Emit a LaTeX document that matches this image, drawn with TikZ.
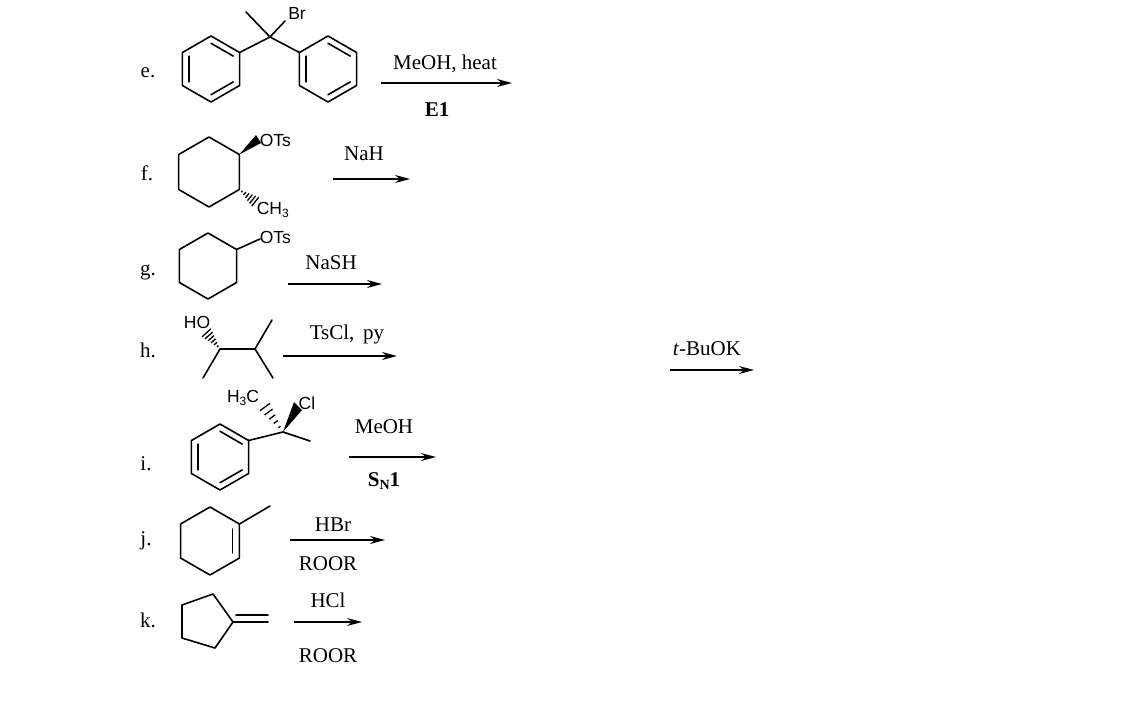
\documentclass[tikz,border=0pt]{standalone}
\usepackage{fontspec}
\setmainfont{Liberation Serif}
\newfontfamily\atomfont{Liberation Sans}
\usetikzlibrary{calc,arrows.meta}
\begin{document}
\begin{tikzpicture}[x=1pt,y=-1pt,line width=1.6pt,
  bond/.style={line width=1.6pt,line cap=round,line join=round},
  hash/.style={line width=1.3pt},
  rxn/.style={line width=1.4pt,-{Stealth[length=15pt,width=8pt]}},
  reag/.style={font=\fontsize{21}{24}\selectfont,inner sep=0pt},
  lab/.style={font=\fontsize{21}{24}\selectfont,inner sep=0pt},
  atom/.style={font=\atomfont\fontsize{17.5}{20}\selectfont,inner sep=0pt}]
\useasboundingbox (0,0) rectangle (1143,712);
\newcommand\sbs[1]{\raisebox{-0.35ex}{\fontsize{12}{14}\selectfont #1}}
\newcommand\hexat[4]{%
  \foreach \i/\a in {1/90,2/30,3/-30,4/-90,5/-150,6/150}{\coordinate (#1\i) at ($(#2,#3)+(\a:#4 and -#4)$);}%
  \coordinate (#1c) at (#2,#3);
  \draw[bond] (#11)--(#12)--(#13)--(#14)--(#15)--(#16)--cycle;}
\newcommand\inner[3]{\draw[bond] ($(#1c)!0.78!(#2)$)--($(#1c)!0.78!(#3)$);}
% labels
\node[lab] (le) at (148,73) {e.};
\node[lab] (lf) at (147,173) {f.};
\node[lab] (lg) at (148,272) {g.};
\node[lab] (lh) at (148,350) {h.};
\node[lab] (li) at (146,464) {i.};
\node[lab] (lj) at (146,541) {j.};
\node[lab] (lk) at (148,620) {k.};
% e
\hexat{A}{211}{69}{33}
\inner{A}{A5}{A6}\inner{A}{A1}{A2}\inner{A}{A3}{A4}
\hexat{B}{328}{69}{33}
\inner{B}{B5}{B6}\inner{B}{B1}{B2}\inner{B}{B3}{B4}
\coordinate (ec) at (270,37);
\draw[bond] (A2)--(ec)--(B6);
\draw[bond] (ec)--(246,12);
\node[atom] (br) at (297,13) {Br};
\draw[bond] (ec)--(285,21);
% f
\hexat{F}{209}{172}{35}
\node[atom,anchor=west] (fo) at (259,140) {OTs};
\fill ($(F2)$) -- ($(fo.west)+(2,3)$) -- ($(fo.west)+(-3,-5)$) -- cycle;
\node[atom,anchor=west] (fm) at (256,210) {CH\sbs{3}};
\foreach \t in {0.15,0.3,...,0.95}{
  \draw[hash] ($(F3)!\t!(257,203)+(\t*4,-\t*5)$)--($(F3)!\t!(257,203)-(\t*4,-\t*5)$);}
% g
\hexat{G}{208}{266}{33}
\node[atom,anchor=west] (go) at (259,237) {OTs};
\draw[bond] (G2)--($(go.west)+(1,2)$);
% h
\coordinate (h2) at (220,349);\coordinate (h3) at (255,349);
\draw[bond] (203,378)--(h2)--(h3)--(272,320);
\draw[bond] (h3)--(273,378);
\node[atom] (ho) at (197,322) {HO};
\foreach \t in {0.15,0.3,...,0.95}{
  \draw[hash] ($(h2)!\t!(205,331)+(\t*5,-\t*4.5)$)--($(h2)!\t!(205,331)-(\t*5,-\t*4.5)$);}
% i
\hexat{I}{220}{457}{33}
\inner{I}{I5}{I6}\inner{I}{I1}{I2}\inner{I}{I3}{I4}
\coordinate (iq) at (283,432);
\draw[bond] (I2)--(iq)--(310,441);
\node[atom] (h3c) at (243,398) {H\sbs{3}C};
\node[atom] (cl) at (307,403) {Cl};
\foreach \t in {0.2,0.4,...,1.0}{
  \draw[hash] ($(iq)!\t!(265,407)+(\t*5,-\t*3.7)$)--($(iq)!\t!(265,407)-(\t*5,-\t*3.7)$);}
\fill (iq) -- (302,410) -- (294,402) -- cycle;
% j
\hexat{J}{210}{541}{34}
\draw[bond] ($(J2)!0.15!(J3)+(-7,0)$)--($(J2)!0.85!(J3)+(-7,0)$);
\draw[bond] (J2)--(270,506);
% k
\coordinate (k1) at (182,605);\coordinate (k2) at (213,594);\coordinate (k3) at (233,622);
\coordinate (k4) at (215,648);\coordinate (k5) at (182,638);
\draw[bond] (k1)--(k2)--(k3)--(k4)--(k5)--cycle;
\draw[bond] (k3)--(268,622);
\draw[bond] (236,615)--(268,615);
% arrows
\coordinate (ea) at (381,83);\coordinate (eb) at (512,83);
\draw[rxn] (ea)--(eb);
\node[reag] (er) at (445,64) {MeOH, heat};
\node[reag] (er2) at (437,110) {\textbf{E1}};
\coordinate (fa) at (333,179);\coordinate (fb) at (410,179);
\draw[rxn] (fa)--(fb);
\node[reag] (fr) at (364,154) {NaH};
\coordinate (ga) at (288,284);\coordinate (gb) at (382,284);
\draw[rxn] (ga)--(gb);
\node[reag] (gr) at (331,263) {NaSH};
\coordinate (ha) at (283,356);\coordinate (hb) at (397,356);
\draw[rxn] (ha)--(hb);
\node[reag] (hr) at (347,334) {TsCl,\, py};
\coordinate (ta) at (670,370);\coordinate (tb) at (754,370);
\draw[rxn] (ta)--(tb);
\node[reag] (tr) at (707,349) {\textit{t}-BuOK};
\coordinate (ia) at (349,457);\coordinate (ib) at (436,457);
\draw[rxn] (ia)--(ib);
\node[reag] (ir) at (384,427) {MeOH};
\node[reag] (ir2) at (384,481) {\textbf{S\raisebox{-0.4ex}{\fontsize{14}{16}\selectfont N}1}};
\coordinate (ja) at (290,540);\coordinate (jb) at (385,540);
\draw[rxn] (ja)--(jb);
\node[reag] (jr) at (333,525) {HBr};
\node[reag] (jr2) at (328,564) {ROOR};
\coordinate (ka) at (294,622);\coordinate (kb) at (362,622);
\draw[rxn] (ka)--(kb);
\node[reag] (kr) at (328,600) {HCl};
\node[reag] (kr2) at (328,656) {ROOR};
\end{tikzpicture}
\end{document}
